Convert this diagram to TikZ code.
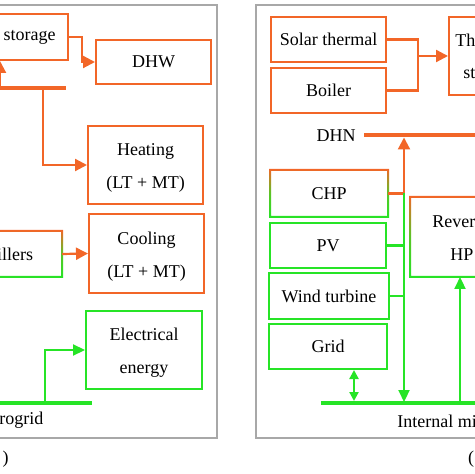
\documentclass[tikz,border=0pt]{standalone}
\usepackage{fontspec}
\setmainfont{Liberation Serif}
\usetikzlibrary{calc,arrows.meta}
\definecolor{heat}{RGB}{242,102,40}
\definecolor{elec}{RGB}{38,228,38}
\definecolor{pane}{RGB}{168,168,168}
\tikzstyle{t}=[inner sep=0pt, font=\fontsize{9}{16.5}\selectfont]
% frame that goes from heat (top) to elec (bottom)
\newcommand\mixframe[1]{\shade[even odd rule, top color=heat, bottom color=elec, middle color=elec!75!heat]
  ($(#1.north west)+(-.5pt,.5pt)$) rectangle ($(#1.south east)+(.5pt,-.5pt)$)
  ($(#1.north west)+(.5pt,-.5pt)$) rectangle ($(#1.south east)+(-.5pt,.5pt)$);}

\begin{document}
\begin{tikzpicture}[x=0.5pt,y=-0.5pt]
%\draw[help lines] (0,0) grid (474,474);
\tikzstyle{b}=[rectangle, draw, line width=1pt, inner sep=0pt, align=center, font=\fontsize{9}{16.5}\selectfont]
\tikzstyle{hb}=[b, draw=heat]
\tikzstyle{eb}=[b, draw=elec]
\tikzstyle{mb}=[b, draw=none]
\tikzstyle{hl}=[draw=heat, line width=1.1pt]
\tikzstyle{el}=[draw=elec, line width=1.1pt]
\tikzstyle{ha}=[hl, -{Triangle[length=6pt,width=6pt]}]
\tikzstyle{ea}=[el, -{Triangle[length=6pt,width=5.5pt]}]
\tikzstyle{eda}=[el, {Triangle[length=4.5pt,width=4.5pt]}-{Triangle[length=4.5pt,width=4.5pt]}]
\tikzstyle{hbar}=[draw=heat, line width=2.3pt]
\tikzstyle{ebar}=[draw=elec, line width=2.3pt]
\useasboundingbox (0,0) rectangle (474,474);

\draw[pane, line width=0.8pt] (-20,5) rectangle (217,438);
\draw[pane, line width=0.8pt] (256,5) rectangle (500,438);

% left panel
\node[hb, minimum width=38.5pt, minimum height=23pt] (stor) at (29.5,37) {storage};
\node[hb, minimum width=57.5pt, minimum height=22pt] (dhw) at (153.5,62) {DHW};
\node[hb, minimum width=57.5pt, minimum height=39pt] (heat) at (145.5,165) {};
\node[t, align=center] (heatt) at ([yshift=-1.5pt]heat) {Heating\\(LT + MT)};
\node[hb, minimum width=57.5pt, minimum height=39.5pt] (cool) at (146.5,253.5) {};
\node[t, align=center] (coolt) at ([yshift=-1.5pt]cool) {Cooling\\(LT + MT)};
\node[mb, minimum width=46pt, minimum height=22pt] (chill) at (15,254) {illers};
\mixframe{chill}
\node[eb, minimum width=58pt, minimum height=39pt] (elen) at (144,350) {};
\node[t, align=center] (elent) at ([yshift=-1.5pt]elen) {Electrical\\energy};

\coordinate (hb1) at (-10,88);
\coordinate (hb2) at (66,88);
\coordinate (hj) at (43,88);
\coordinate (sj) at (0,88);
\coordinate (eb1) at (-10,403);
\coordinate (eb2) at (92,403);
\coordinate (ej) at (45,403);

\draw[hbar] (hb1) -- (hb2);
\draw[ebar] (eb1) -- (eb2);
\draw[ha] (stor.east) -- ++(13,0) |- (dhw.west);
\draw[ha] (sj) -- (sj |- stor.south);
\draw[ha] (hj) |- (heat.west);
\draw[ha] (chill.east) -- (cool.west);
\draw[ea] (ej) |- (elen.west);
\node[t, anchor=west] (mg) at (-1,420) {rogrid};
\node[t] (la) at (5.5,459) {)};

% right panel
\node[hb, minimum width=57.5pt, minimum height=22.5pt] (sol) at (328.5,39.5) {Solar thermal};
\node[hb, minimum width=57.5pt, minimum height=22.5pt] (boil) at (328.5,90.5) {Boiler};
\node[hb, minimum width=42pt, minimum height=39pt] (ts) at (491,56) {};
\node[t, anchor=west] (ts1) at (455,40) {Th};
\node[t, anchor=west] (ts2) at (463,74) {st};
\coordinate (tj) at (418,56);
\draw[hl] (sol.east) -| (tj);
\draw[hl] (boil.east) -| (tj);
\draw[ha] (tj) -- (ts.west);

\node[t] (dhn) at (336,136) {DHN};
\coordinate (db1) at (364,135);
\coordinate (db2) at (500,135);
\draw[hbar] (db1) -- (db2);

\node[mb, minimum width=58pt, minimum height=22.5pt] (chp) at (329,193.5) {CHP};
\mixframe{chp}
\node[eb, minimum width=58pt, minimum height=22.5pt] (pv) at (328,245.5) {PV};
\node[eb, minimum width=60pt, minimum height=23pt] (wt) at (329,296) {Wind turbine};
\node[eb, minimum width=59pt, minimum height=22.5pt] (grid) at (328,346.5) {Grid};
\node[mb, minimum width=54pt, minimum height=39pt] (hp) at (465,237) {};
\mixframe{hp}
\node[t, anchor=west] (hp1) at (432,222) {Rever};
\node[t, anchor=west] (hp2) at (450,255) {HP};

\coordinate (cj) at (404,193.5);
\coordinate (dj) at (404,137.5);
\coordinate (ib1) at (321,403);
\coordinate (ib2) at (500,403);
\coordinate (ij) at (404,402);
\coordinate (gj) at (354,401);
\coordinate (pj) at (460,401);
\draw[ebar] (ib1) -- (ib2);
\draw[ha] (chp.east) -- (cj) -- (dj);
\draw[ea] (cj) -- (ij);
\draw[el] (pv.east) -- (pv.east -| cj);
\draw[el] (wt.east) -- (wt.east -| cj);
\draw[eda] (grid.south -| gj) -- (gj);
\draw[ea] (pj) -- (pj |- hp.south);
\node[t, anchor=west] (img) at (397,421) {Internal mi};
\node[t] (lb) at (471,459) {(};
\end{tikzpicture}
\end{document}
